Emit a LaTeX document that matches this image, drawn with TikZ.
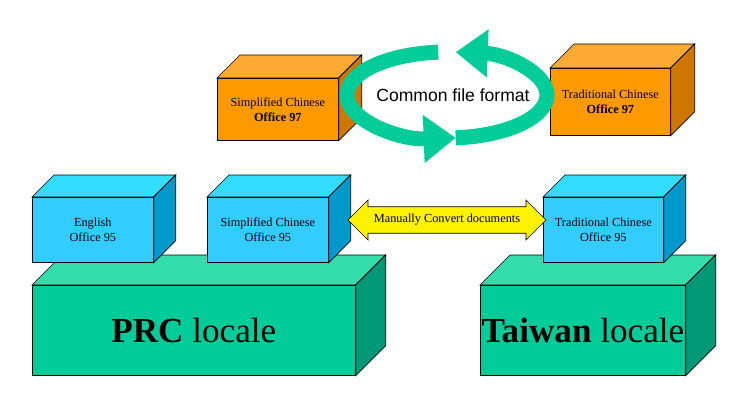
\documentclass[tikz,border=0pt]{standalone}
\usepackage{fontspec}
\setmainfont{Liberation Serif}
\newfontfamily\arialf{Liberation Sans}
\usetikzlibrary{shapes.arrows,calc,arrows.meta}
\definecolor{orF}{HTML}{FF9900}\definecolor{orT}{HTML}{FFAA33}\definecolor{orS}{HTML}{CC7700}
\definecolor{blF}{HTML}{33CCFF}\definecolor{blT}{HTML}{33DDFF}\definecolor{blS}{HTML}{0099CC}
\definecolor{grF}{HTML}{00CC99}\definecolor{grT}{HTML}{33DDAA}\definecolor{grS}{HTML}{009977}
\definecolor{ringC}{HTML}{00CC99}
% \boxthree{name}{x}{y}{w}{h}{depth}{colour prefix}{text}
\newcommand{\boxthree}[8]{%
  \node[draw,fill=#7F,minimum width=#4*0.02cm,minimum height=#5*0.02cm,anchor=north west,inner sep=0pt,align=center] (#1) at (#2,#3) {#8};
  \filldraw[fill=#7T] (#1.north west) -- ++(#6,-#6) -- ($(#1.north east)+(#6,-#6)$) -- (#1.north east) -- cycle;
  \filldraw[fill=#7S] (#1.north east) -- ++(#6,-#6) -- ($(#1.south east)+(#6,-#6)$) -- (#1.south east) -- cycle;}
\tikzset{ring/.style={ringC,line width=15*0.02cm,-{Triangle[length=32*0.02cm,width=46*0.02cm]}}}
\begin{document}
\begin{tikzpicture}[x=0.02cm,y=-0.02cm,font=\fontsize{7}{8.5}\selectfont]
    \useasboundingbox (0,0) rectangle (745,409);
    % Office 97
    \boxthree{sc97}{217}{78}{121}{62}{23}{or}{Simplified Chinese\\\textbf{Office 97}}
    \boxthree{tc97}{550}{68}{120}{67}{24}{or}{Traditional Chinese\\\textbf{Office 97}}
    % ring of arrows
    \draw[ring] ($(447,95)+({100*cos(-85)},{-43*sin(-85)})$) arc[start angle=-85,end angle=85,x radius=100,y radius=-43];
    \draw[ring] ($(447,95)+({100*cos(95)},{-43*sin(95)})$) arc[start angle=95,end angle=275,x radius=100,y radius=-43];
    \node[font=\arialf\fontsize{10}{12}\selectfont] (common) at (453,95) {Common file format};
    % locales
    \boxthree{prc}{32}{285}{323}{90}{30}{gr}{\fontsize{20}{24}\selectfont\textbf{PRC} locale}
    \boxthree{tw}{480}{285}{205}{90}{30}{gr}{\fontsize{20}{24}\selectfont\textbf{Taiwan} locale}
    % Office 95
    \boxthree{en95}{32}{197}{121}{65}{22}{bl}{English\\Office 95}
    \boxthree{sc95}{207}{197}{121}{65}{22}{bl}{Simplified Chinese\\Office 95}
    \boxthree{tc95}{543}{197}{120}{65}{22}{bl}{Traditional Chinese\\Office 95}
    \node[double arrow,draw,fill=yellow,minimum width=40*0.02cm,double arrow head extend=4*0.02cm,
        minimum height=198*0.02cm,inner sep=1pt] (conv) at (447,220) {Manually Convert documents};
\end{tikzpicture}
\end{document}
